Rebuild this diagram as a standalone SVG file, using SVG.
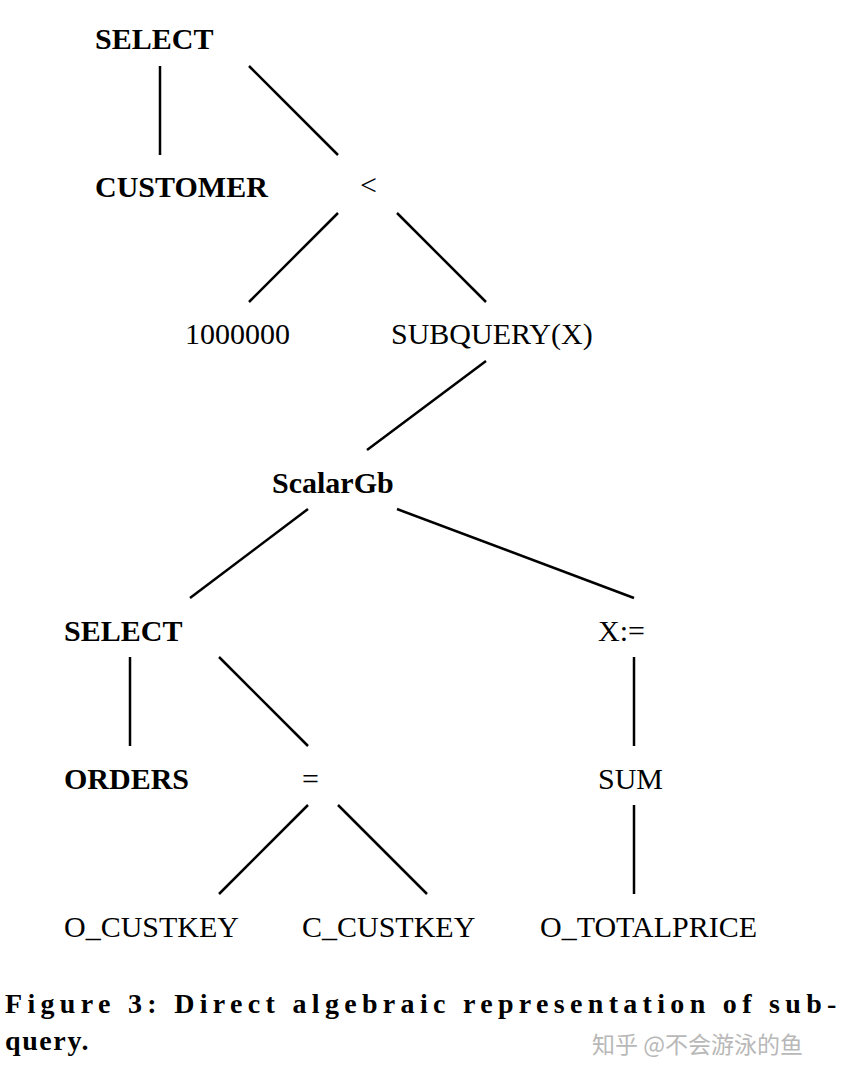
<svg xmlns="http://www.w3.org/2000/svg" width="849" height="1079" viewBox="0 0 849 1079">
<style>
.t{font-family:"Liberation Serif",serif;font-size:30px;fill:#000}
.b{font-weight:bold}
.c{font-family:"Liberation Serif",serif;font-size:28px;font-weight:bold;letter-spacing:1.6px}
.w{font-family:"Noto Sans CJK SC",sans-serif;font-size:23px;fill:#b8b8b8}
line{stroke:#000;stroke-width:2.5}
</style>
<rect width="849" height="1079" fill="#fff"/>
<g id="connectors">
<line x1="160" y1="66" x2="160" y2="155"/>
<line x1="249" y1="66" x2="338" y2="155"/>
<line x1="338" y1="213" x2="249" y2="302"/>
<line x1="397" y1="213" x2="486" y2="302"/>
<line x1="486" y1="361" x2="367" y2="450"/>
<line x1="308" y1="509" x2="190" y2="598"/>
<line x1="397" y1="509" x2="634" y2="598"/>
<line x1="130" y1="657" x2="130" y2="746"/>
<line x1="219" y1="657" x2="308" y2="746"/>
<line x1="634" y1="657" x2="634" y2="746"/>
<line x1="308" y1="805" x2="219" y2="894"/>
<line x1="338" y1="805" x2="427" y2="894"/>
<line x1="634" y1="805" x2="634" y2="894"/>
</g>
<g id="select1"><text class="t b" x="95" y="49">SELECT</text></g>
<g id="customer"><text class="t b" x="95" y="197">CUSTOMER</text></g>
<g id="lt"><text class="t" x="360" y="195">&lt;</text></g>
<g id="n1000000"><text class="t" x="185" y="344">1000000</text></g>
<g id="subquery"><text class="t" x="391" y="344">SUBQUERY(X)</text></g>
<g id="scalargb"><text class="t b" x="272" y="493">ScalarGb</text></g>
<g id="select2"><text class="t b" x="64" y="641">SELECT</text></g>
<g id="xassign"><text class="t" x="598" y="641">X:=</text></g>
<g id="orders"><text class="t b" x="64" y="789">ORDERS</text></g>
<g id="eq"><text class="t" x="302" y="789">=</text></g>
<g id="sum"><text class="t" x="598" y="789">SUM</text></g>
<g id="ocustkey"><text class="t" x="64" y="937">O_CUSTKEY</text></g>
<g id="ccustkey"><text class="t" x="302" y="937">C_CUSTKEY</text></g>
<g id="ototal"><text class="t" x="540" y="937">O_TOTALPRICE</text></g>
<text class="c" x="5" y="1013" textLength="833" lengthAdjust="spacing">Figure 3:  Direct algebraic representation of sub-</text>
<text class="c" x="5" y="1050">query.</text>
<text class="w" x="592" y="1053">知乎 @不会游泳的鱼</text>
</svg>
